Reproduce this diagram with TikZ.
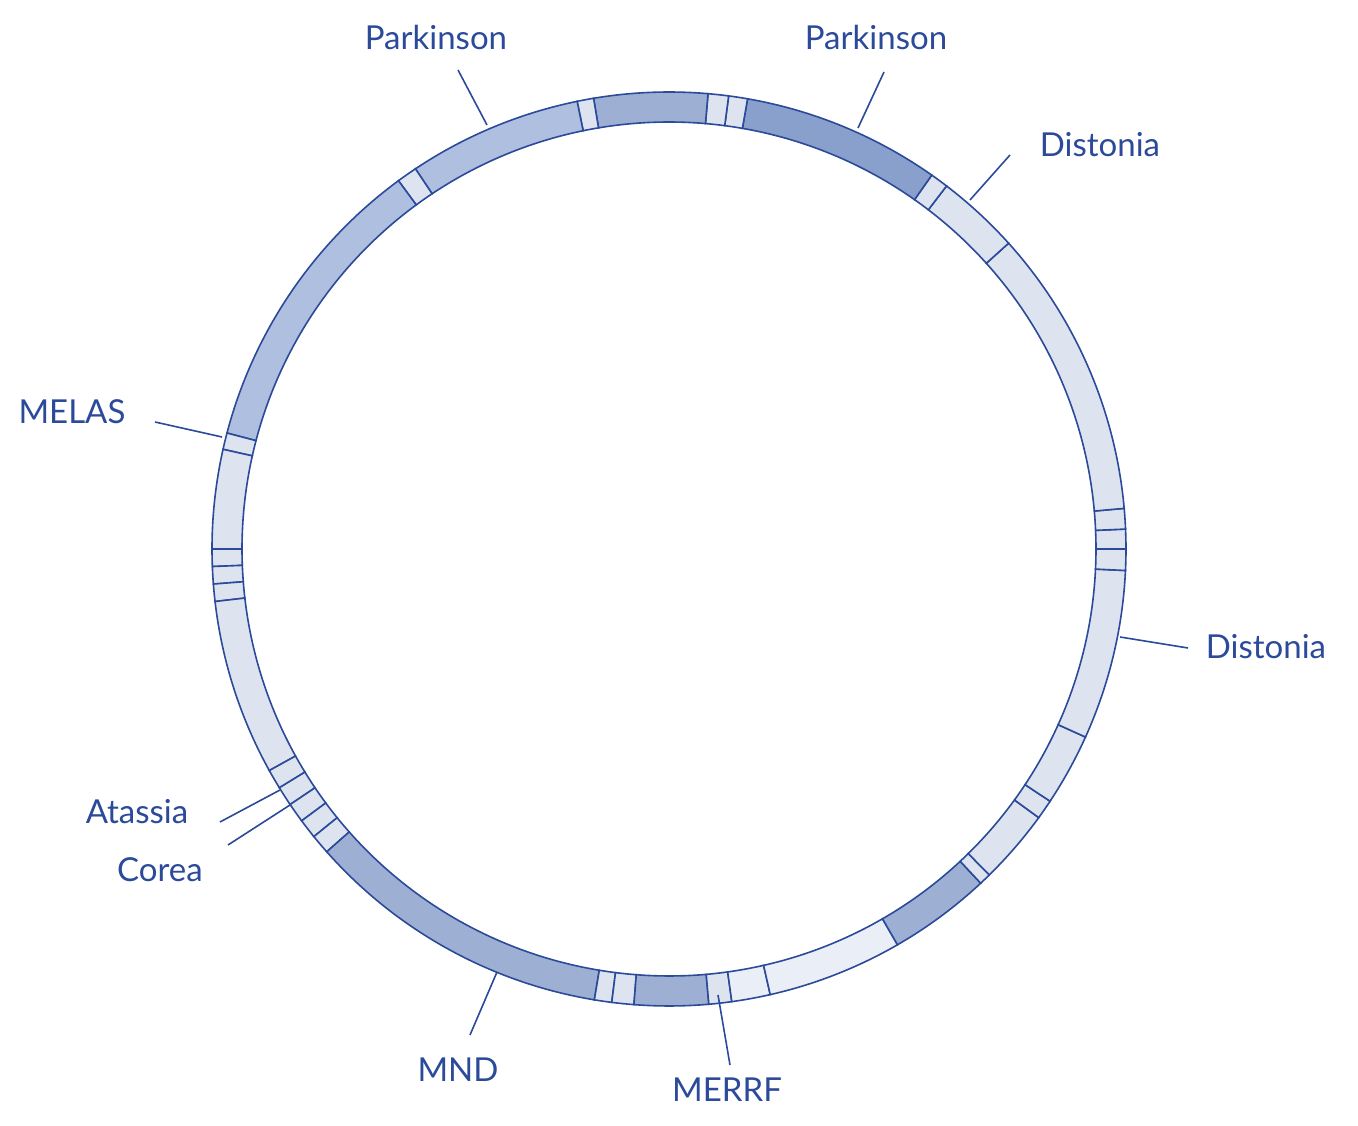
\documentclass[tikz,border=0pt]{standalone}
\usetikzlibrary{calc}
\usepackage{fontspec}
\setmainfont{Lato}
\definecolor{ink}{HTML}{2B4A9A}
\definecolor{cL}{HTML}{DDE4F0}
\definecolor{cV}{HTML}{EAEFF7}
\definecolor{cM}{HTML}{9DB0D4}
\definecolor{cA}{HTML}{AEBFDF}
\definecolor{cD}{HTML}{8AA0CC}
\begin{document}
\begin{tikzpicture}[x=1pt,y=1pt,
  seg/.style={draw=ink,line width=1.6pt,line join=miter},
  lead/.style={draw=ink,line width=1.6pt},
  lab/.style={text=ink,font=\fontsize{33}{33}\selectfont,inner sep=0pt}]
\useasboundingbox (0,0) rectangle (1358,1125);
\coordinate (c) at (669,576);
\def\Ro{457}\def\Ri{427}
\foreach \a/\b/\col in {-180/-177.8/cL,-177.8/-175.6/cL,-175.6/-173.4/cL,-173.4/-151/cL,
 -151/-148.5/cL,-148.5/-146/cL,-146/-143.5/cL,-143.5/-141/cL,-141/-138.5/cL,
 -138.5/-99.4/cM,-99.4/-97.2/cL,-97.2/-94.4/cL,-94.4/-85/cM,-85/-82.1/cL,-82.1/-77.2/cV,
 -77.2/-60/cV,-60/-47/cM,-47/-45.5/cL,-45.5/-36/cL,-36/-33.5/cL,-33.5/-24.3/cL,-24.3/-2.7/cL,
 -2.7/0/cL,0/2.5/cL,2.5/5.1/cL,5.1/42/cL,42/52.6/cL,52.6/54.9/cL,54.9/80.1/cD,
 80.1/82.5/cL,82.5/85.1/cL,85.1/99.5/cM,99.5/101.6/cL,101.6/123.7/cA,123.7/126.3/cL,
 126.3/165.3/cA,165.3/167.4/cL,167.4/180/cL}
 \path[seg,fill=\col] ($(c)+(\a:\Ro)$) arc[start angle=\a,end angle=\b,radius=\Ro]
   -- ($(c)+(\b:\Ri)$) arc[start angle=\b,end angle=\a,radius=\Ri] -- cycle;
\node[lab] (p1) at (436,1088) {Parkinson};
\node[lab] (p2) at (876,1088) {Parkinson};
\node[lab] (d1) at (1100,980) {Distonia};
\node[lab] (d2) at (1266,478) {Distonia};
\node[lab] (me) at (72,713) {MELAS};
\node[lab] (at) at (137,313) {Atassia};
\node[lab] (co) at (160,255) {Corea};
\node[lab] (mn) at (458,55) {MND};
\node[lab] (mr) at (727,35) {MERRF};
\coordinate (p1a) at (458,1055); \coordinate (p1b) at (487,1000);
\coordinate (p2a) at (884,1053); \coordinate (p2b) at (858,997);
\coordinate (d1a) at (1010,970); \coordinate (d1b) at (970,925);
\coordinate (d2a) at (1188,477); \coordinate (d2b) at (1120,488);
\coordinate (mea) at (155,703); \coordinate (meb) at (222,688);
\coordinate (ata) at (220,303); \coordinate (atb) at (280,335);
\coordinate (coa) at (228,280); \coordinate (cob) at (290,320);
\coordinate (mna) at (470,90); \coordinate (mnb) at (497,153);
\coordinate (mra) at (730,60); \coordinate (mrb) at (718,130);
\foreach \u/\v in {p1a/p1b,p2a/p2b,d1a/d1b,d2a/d2b,mea/meb,ata/atb,coa/cob,mna/mnb,mra/mrb}
 \draw[lead] (\u) -- (\v);
\end{tikzpicture}
\end{document}
